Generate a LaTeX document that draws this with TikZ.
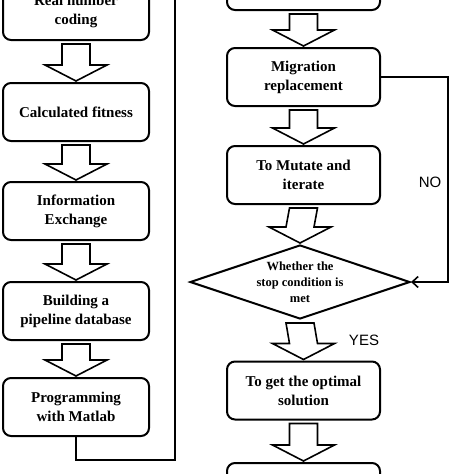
\documentclass[tikz,border=0pt]{standalone}
\usepackage{fontspec}
\setmainfont{Liberation Serif}
\newfontfamily\branchfont{Liberation Sans}
\usetikzlibrary{shapes.geometric,calc,arrows.meta}

\tikzset{
  procbox/.style={draw, line width=2pt, rounded corners=8pt, minimum height=58pt, align=center, inner sep=2pt, font=\fontsize{15}{19}\selectfont\bfseries},
  leftbox/.style={procbox, minimum width=146pt},
  rightbox/.style={procbox, minimum width=153pt},
  decision/.style={draw, diamond, line width=2pt, minimum width=220pt, minimum height=74pt, inner sep=0pt},
  dtext/.style={align=center, font=\fontsize{12.5}{16}\selectfont\bfseries},
  hollow/.style={draw, line width=1.6pt, fill=white, line join=miter},
  flow/.style={line width=2pt},
  branch/.style={font=\branchfont\fontsize{15}{18}\selectfont}
}

% hollow block arrow from the bottom of #1 to the top of #2
\newcommand{\bigarrow}[2]{%
  \draw[hollow] ($(#1.south)+(-14,3)$) -- ($(#2.north)+(-14,-17)$) -- ($(#2.north)+(-31,-17)$) -- ($(#2.north)+(0,-1)$) -- ($(#2.north)+(31,-17)$) -- ($(#2.north)+(14,-17)$) -- ($(#1.south)+(14,3)$) -- cycle;}

\begin{document}
\begin{tikzpicture}[x=1pt,y=1pt,yscale=-1,xscale=1]
  \useasboundingbox (0,0) rectangle (474,474);
  \clip (0,0) rectangle (474,474);

  % left column
  \node[leftbox] (coding) at (76,11) {Real number\\coding};
  \node[leftbox] (fitness) at (76,112) {Calculated fitness};
  \node[leftbox] (exchange) at (76,211) {Information\\Exchange};
  \node[leftbox] (database) at (76,311) {Building a\\pipeline database};
  \node[leftbox] (matlab) at (76,407) {Programming\\with Matlab};

  % right column
  \node[rightbox] (start) at (303.5,-19) {};
  \node[rightbox] (migration) at (303.5,77) {Migration\\replacement};
  \node[rightbox] (mutate) at (303.5,175) {To Mutate and\\iterate};
  \node[decision, label={[dtext]center:{Whether the\\stop condition is\\met}}] (stop) at (300,282) {};
  \node[rightbox] (optimal) at (303.5,390.5) {To get the optimal\\solution};
  \node[rightbox] (finish) at (303.5,492) {};

  \bigarrow{coding}{fitness}
  \bigarrow{fitness}{exchange}
  \bigarrow{exchange}{database}
  \bigarrow{database}{matlab}

  \bigarrow{start}{migration}
  \bigarrow{migration}{mutate}
  \bigarrow{mutate}{stop}
  \bigarrow{stop}{optimal}
  \bigarrow{optimal}{finish}

  % loop lines
  \coordinate (loopend) at (175,-5);
  \draw[flow] (matlab.south) -- ++(0,23) -| (loopend);
  \draw[flow, -{Straight Barb[length=6pt,width=11pt,line width=1.6pt]}] (migration.east) -- ++(67,0) |- (stop.east);

  \node[branch] (no) at (430,182) {NO};
  \node[branch] (yes) at (364,340) {YES};
\end{tikzpicture}
\end{document}
